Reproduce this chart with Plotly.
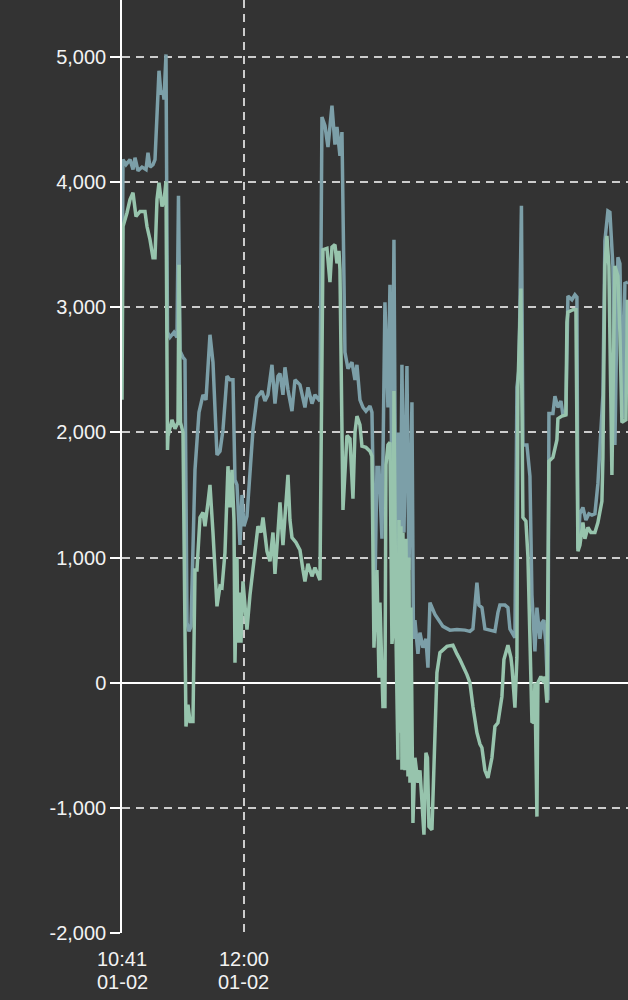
import pandas as pd
import plotly.graph_objects as go

START = "2024-01-02 10:41:00"
END_MIN = 327.7

# minutes elapsed since 10:41 and values, series 1 (blue-grey)
blue_min = [0, 0.65, 2.59, 5.18, 7.12, 8.42, 10.36, 12.95, 15.54, 16.84, 18.13, 20.07, 21.37, 22.66,
            23.96, 25.25, 26.55, 27.2, 28.49, 29.46, 31.08, 33.67, 35.61, 36.58, 37.56, 39.5, 40.79,
            42.09, 43.38, 44.68, 45.97, 47.27, 49.86, 52.45, 54.39, 56.98, 58.92, 61.51, 63.46, 65.4,
            67.99, 69.93, 71.87, 73.17, 74.46, 76.41, 77.7, 79.0, 80.94, 82.88, 84.82, 87.41, 90.65,
            92.59, 94.54, 97.13, 99.07, 101.01, 102.31, 104.25, 105.54, 107.49, 110.08, 112.02, 115.26,
            118.49, 120.44, 123.03, 124.97, 128.21, 129.5, 131.44, 133.39, 135.98, 137.92, 139.21,
            141.16, 142.45, 143.42, 144.39, 146.34, 148.93, 150.87, 152.16, 154.11, 156.05, 157.99,
            160.58, 161.88, 163.82, 165.11, 166.41, 168.35, 170.29, 172.24, 173.53, 174.83, 176.12,
            177.42, 178.71, 180.01, 181.3, 182.6, 184.54, 185.83, 187.78, 188.75, 189.72, 191.66,
            192.96, 194.9, 196.84, 198.14, 199.43, 202.67, 205.91, 207.85, 212.38, 216.91, 222.09,
            225.33, 227.27, 228.57, 229.86, 231.16, 233.1, 235.04, 238.28, 241.52, 243.46, 244.76,
            248.0, 249.94, 251.23, 253.82, 254.47, 255.77, 257.06, 258.68, 259.65, 262.24, 264.19,
            265.48, 266.13, 267.42, 268.72, 270.66, 271.95, 273.25, 274.54, 275.84, 276.49, 279.08,
            280.37, 282.31, 284.26, 285.55, 287.49, 288.14, 288.79, 291.38, 293.32, 294.62, 295.27,
            296.56, 298.5, 300.44, 302.39, 304.33, 306.27, 308.21, 309.51, 311.45, 312.74, 314.69,
            315.98, 317.92, 319.22, 321.16, 322.46, 324.4, 325.69, 327.64]
blue_val = [2920, 4180, 4140, 4180, 4100, 4195, 4090, 4120, 4100, 4235, 4120, 4140, 4180, 4580,
            4890, 4700, 4730, 4660, 5020, 2800, 2760, 2800, 2760, 3890, 2650, 2600, 2580,
            480, 410, 450, 1000, 1700, 2160, 2300, 2260, 2780, 2560, 1820, 1850, 2020,
            2450, 2420, 2420, 1620, 1580, 1100, 1500, 1250, 1330, 1650, 2020, 2280, 2330,
            2250, 2300, 2540, 2230, 2450, 2470, 2300, 2520, 2340, 2170, 2420, 2380,
            2200, 2360, 2230, 2300, 2250, 4520, 4450, 4280, 4610, 4300, 4440,
            4210, 4400, 3300, 2640, 2510, 2560, 2420, 2540, 2260, 2200, 2170,
            2210, 2160, 760, 1720, 1720, 1150, 3040, 2200, 3180, 1500, 3540,
            800, 2000, 600, 2540, 1200, 2530, 900, 2240, 350, 500, 230,
            400, 280, 350, 120, 640, 545, 480, 450, 420, 425, 420,
            410, 430, 600, 800, 620, 600, 430, 420, 410, 560, 620,
            620, 600, 430, 380, 360, 2360, 2500, 3810, 1900, 1900, 1650,
            700, 550, 250, 600, 350, 480, 500, 300, -140, 2150, 2150,
            2290, 2200, 2250, 2140, 2150, 2980, 3090, 3060, 3100, 3080, 1070,
            1350, 1400, 1300, 1350, 1340, 1350, 1590, 1910, 2300, 3530, 3770,
            3760, 3330, 1900, 3400, 3350, 2110, 3190, 3200]

# series 2 (green)
green_min = [0, 0.65, 3.24, 5.18, 7.12, 9.07, 11.66, 14.89, 16.19, 18.13, 20.07, 21.37, 22.66,
             23.96, 25.9, 27.2, 28.49, 29.46, 29.79, 32.38, 34.32, 36.26, 36.91, 37.88, 39.5,
             40.79, 41.44, 42.74, 44.03, 45.97, 47.27, 48.56, 50.51, 52.45, 53.74, 55.69, 56.98,
             58.92, 61.51, 63.46, 64.75, 66.69, 68.64, 69.93, 71.23, 72.52, 73.17, 74.46, 75.11,
             76.41, 77.05, 78.35, 79.64, 80.94, 82.88, 84.82, 86.12, 88.06, 90.0, 91.3, 93.89,
             95.83, 97.77, 99.07, 101.01, 102.31, 104.25, 106.19, 107.49, 108.78, 110.08, 112.67,
             115.26, 117.2, 118.49, 120.44, 123.03, 124.97, 126.91, 128.21, 130.15, 132.74,
             134.68, 135.98, 137.92, 139.21, 140.51, 141.16, 143.1, 145.69, 147.63, 149.57,
             150.87, 152.16, 154.11, 155.4, 157.99, 160.58, 161.88, 163.17, 165.11, 166.41,
             167.06, 169.0, 170.29, 170.94, 172.24, 173.53, 174.83, 175.47, 176.12, 177.42,
             178.71, 179.36, 180.01, 180.65, 181.3, 181.95, 183.24, 183.89, 185.19, 185.83,
             186.48, 187.13, 188.42, 189.72, 191.66, 192.96, 194.25, 195.55, 196.84, 197.81,
             198.78, 200.73, 203.96, 205.91, 210.44, 214.32, 216.91, 218.86, 223.39, 225.33,
             227.27, 229.86, 231.81, 233.1, 235.04, 236.99, 239.58, 241.52, 243.46, 246.05,
             247.35, 249.94, 251.88, 252.53, 254.47, 255.77, 256.41, 258.35, 259.65, 261.59,
             262.89, 265.48, 266.78, 267.42, 268.72, 269.36, 271.3, 273.25, 273.89, 275.19,
             276.49, 279.08, 281.66, 282.31, 284.9, 287.49, 288.14, 288.79, 292.02, 293.97,
             295.27, 296.56, 298.5, 299.8, 301.74, 303.68, 306.27, 308.21, 310.8, 311.45,
             312.74, 314.04, 315.33, 317.28, 319.22, 321.16, 322.46, 323.75, 326.35, 327.32]
green_val = [2260, 3645, 3755, 3860, 3915, 3725, 3765, 3765, 3645, 3540, 3395, 3395, 3860,
             3995, 3805, 3850, 4005, 1860, 1970, 2100, 2030, 2080, 3340, 2080, 2000,
             420, -350, -175, -310, -310, 900, 900, 1320, 1360, 1250, 1440, 1580,
             1200, 610, 770, 760, 1040, 1730, 1400, 1700, 1300, 160, 1000, 320,
             720, 320, 810, 650, 425, 700, 900, 1030, 1250, 1200, 1320, 1050,
             970, 1200, 870, 1200, 1440, 1100, 1500, 1660, 1300, 1160, 1120,
             1060, 900, 810, 950, 850, 920, 860, 820, 3460, 3470,
             3200, 3480, 3500, 3350, 3450, 3300, 1380, 1975, 1950, 1470,
             2000, 2130, 2060, 1890, 1880, 1850, 1810, 280, 900, 40,
             640, -190, -190, 1740, 1900, 1920, 310, 400, 2330, 400,
             -615, 1300, -400, 1250, -695, 1200, -700, 1150, -750, 1000,
             -800, 600, -1120, -600, -800, -700, -950, -1215, -560, -600,
             -1150, -1175, 80, 240, 290, 300, 230, 185, 65, 0,
             -190, -400, -490, -520, -700, -760, -600, -350, -320, -110,
             185, 300, 200, 130, -200, 200, 2360, 3150, 1320, 1290,
             1010, -310, -320, 0, -1070, 0, 50, 0, 50, -160,
             1770, 1800, 1940, 2110, 2130, 2140, 2880, 2960, 2980, 2980,
             1050, 1100, 1280, 1150, 1240, 1200, 1200, 1280, 1450, 1800,
             3330, 3570, 3330, 1660, 3330, 3250, 2800, 2080, 2100, 3060]

y_ticks = [-2000, -1000, 0, 1000, 2000, 3000, 4000, 5000]
y_labels = ["-2,000", "-1,000", "0", "1,000", "2,000", "3,000", "4,000", "5,000"]
x_ticks = ["2024-01-02 10:41:00", "2024-01-02 12:00:00"]
x_time_labels = ["10:41", "12:00"]
x_date_labels = ["01-02", "01-02"]

start = pd.Timestamp(START)
bt = start + pd.to_timedelta(blue_min, unit="min")
gt = start + pd.to_timedelta(green_min, unit="min")

BG = "#333333"
GRID = "#cccccc"
TXT = "#f2f2f2"
FONT = "Liberation Sans, Arial, sans-serif"
FS = 20

fig = go.Figure()
fig.add_trace(go.Scatter(x=bt, y=blue_val, mode="lines",
                         line=dict(color="#7c9fa8", width=3.5), name="A"))
fig.add_trace(go.Scatter(x=gt, y=green_val, mode="lines",
                         line=dict(color="#97c4ad", width=3.5), name="B"))

fig.update_layout(
    width=628, height=1000,
    paper_bgcolor=BG, plot_bgcolor=BG,
    margin=dict(l=122, r=0, t=0, b=67, pad=0),
    showlegend=False,
    font=dict(family=FONT, size=FS, color=TXT),
)
fig.update_xaxes(
    type="date",
    range=[start, start + pd.Timedelta(minutes=END_MIN)],
    tickvals=x_ticks, ticktext=x_time_labels,
    showgrid=True, gridcolor=GRID, gridwidth=1.5, griddash="8px,6px",
    showline=False, zeroline=False,
    ticks="outside", ticklen=8, tickcolor=BG,
    tickfont=dict(family=FONT, size=FS, color=TXT),
)
fig.update_yaxes(
    range=[-2000, 5455],
    tickvals=y_ticks, ticktext=y_labels,
    showgrid=True, gridcolor=GRID, gridwidth=1.5, griddash="8px,6px",
    zeroline=True, zerolinecolor="#ffffff", zerolinewidth=1.5,
    showline=True, linecolor="#ffffff", linewidth=1.5,
    ticks="outside", ticklen=10, tickwidth=1.5, tickcolor="#ffffff",
    tickfont=dict(family=FONT, size=FS, color=TXT),
)
for tv, lab in zip(x_ticks, x_date_labels):
    fig.add_annotation(x=tv, xref="x", y=0, yref="paper", yanchor="middle",
                       yshift=-49, text=lab, showarrow=False,
                       font=dict(family=FONT, size=FS, color=TXT))

fig.write_html("out.html", config={"displayModeBar": False},
               post_script="document.body.style.margin='0';")
